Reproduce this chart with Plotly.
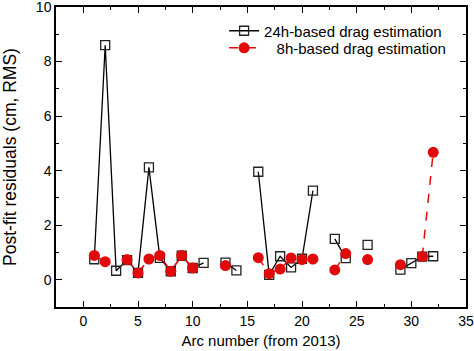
import plotly.graph_objects as go

arcs = list(range(1, 33))
res_24h = [0.75, 8.6, 0.33, 0.72, 0.25, 4.12, 0.80, 0.31, 0.88, 0.43, 0.62, None,
           0.63, 0.34, None, 3.96, 0.18, 0.86, 0.45, 0.77, 3.27, None, 1.50, 0.79,
           None, 1.28, None, None, 0.37, 0.61, 0.85, 0.86]
res_8h = [0.89, 0.66, None, 0.74, 0.25, 0.76, 0.89, 0.31, 0.89, 0.43, None, None,
          0.52, None, None, 0.81, 0.22, 0.39, 0.80, 0.74, 0.76, None, 0.36, 0.96,
          None, 0.74, None, None, 0.55, None, 0.85, 4.67]
x_ticks = [0, 5, 10, 15, 20, 25, 30, 35]
y_ticks = [0, 2, 4, 6, 8, 10]

FONT = "Liberation Sans, Arial, sans-serif"
RED = "#e10a0a"

fig = go.Figure()
fig.add_trace(go.Scatter(
    x=arcs, y=res_24h, mode="lines+markers", name="24h-based drag estimation",
    line=dict(color="black", width=1.3),
    marker=dict(symbol="square-open", size=9, color="#222", line=dict(width=1.3)),
    legend="legend", showlegend=True,
))
fig.add_trace(go.Scatter(
    x=arcs, y=res_8h, mode="lines+markers",
    name="\u00a0\u00a0\u00a08h-based drag estimation",
    line=dict(color=RED, width=1.5, dash="dash"),
    marker=dict(symbol="circle", size=11, color=RED),
    legend="legend2", showlegend=True,
))

axis_common = dict(
    showline=True, linecolor="black", linewidth=1.5, mirror="allticks",
    ticks="inside", ticklen=6, tickwidth=1.2, tickcolor="black",
    showgrid=False, zeroline=False, automargin=False, ticklabeloverflow="allow",
    tickfont=dict(family=FONT, size=14, color="black"),
)
fig.update_xaxes(
    range=[-2.5, 35], tickvals=x_ticks,
    minor=dict(ticks="inside", ticklen=3, tickwidth=1.2, tickcolor="black", dtick=2.5, tick0=0),
    title=dict(text="Arc number (from 2013)", font=dict(family=FONT, size=15, color="black"), standoff=8),
    **axis_common,
)
fig.update_yaxes(
    range=[-1, 10], tickvals=y_ticks,
    minor=dict(ticks="inside", ticklen=3, tickwidth=1.2, tickcolor="black", dtick=1, tick0=0),
    title=dict(text="Post-fit residuals (cm, RMS)", font=dict(family=FONT, size=17.5, color="black"), standoff=16),
    **axis_common,
)
leg_common = dict(xanchor="left", yanchor="middle", bgcolor="rgba(0,0,0,0)",
                  font=dict(family=FONT, size=15, color="black"), visible=True)
fig.update_layout(
    width=474, height=351,
    margin=dict(l=56, r=8, t=7, b=44),
    paper_bgcolor="white", plot_bgcolor="white",
    font=dict(family=FONT, color="black"),
    showlegend=True,
    legend=dict(x=0.41, y=0.92, **leg_common),
    legend2=dict(x=0.41, y=0.863, **leg_common),
)
fig.write_html("out.html")
